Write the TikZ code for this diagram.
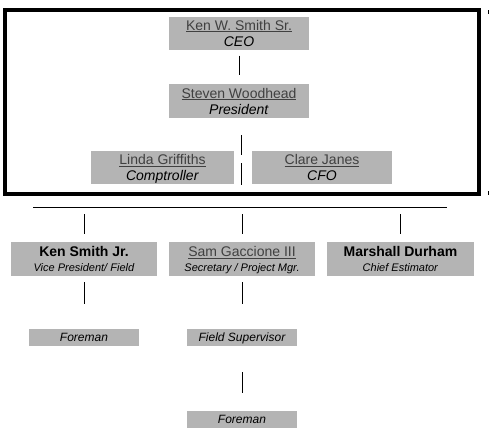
\documentclass[tikz,border=0pt]{standalone}
\usepackage{fontspec}
\setmainfont{Liberation Sans}
\usepackage{xcolor}
\usetikzlibrary{positioning}
\definecolor{boxgray}{RGB}{180,180,180}
\definecolor{namegray}{RGB}{64,64,64}
\newcommand{\pname}[1]{\textcolor{namegray}{\underline{#1}}}
\newcommand{\nodepth}[1]{\raisebox{0pt}[\height][0pt]{#1}}
\newcommand{\ptitle}[1]{\nodepth{\textit{#1}}}

\begin{document}
\begin{tikzpicture}[x=1pt,y=-1pt,
    box/.style={fill=boxgray,inner sep=0pt,align=center,minimum width=140pt,minimum height=33pt,font=\fontsize{14}{16}\selectfont},
    lowbox/.style={box,minimum width=146pt,minimum height=34pt},
    smallbox/.style={box,minimum width=110pt,minimum height=17pt,font=\fontsize{12}{13}\selectfont\itshape},
    link/.style={line width=0.8pt}]
        \useasboundingbox (0,0) rectangle (489,445);
        % top frame
        \draw[line width=4pt] (5,10) rectangle (479,193.5);
        \draw[line width=1pt] (488,10) -- (488,14);
        \draw[line width=1pt] (488,191) -- (488,195);
        \node[box] (ceo) at (239,33) {\pname{Ken W. Smith Sr.}\\\ptitle{CEO}};
        \node[box,minimum height=34pt] (pres) at (239,101) {\pname{Steven Woodhead}\\\ptitle{President}};
        \node[box,minimum width=143pt] (cmp) at (162.5,167.5) {\pname{Linda Griffiths}\\\ptitle{Comptroller}};
        \node[box] (cfo) at (322,167.5) {\pname{Clare Janes}\\\ptitle{CFO}};
        \draw[link] ([yshift=-6pt]ceo.south) -- ([yshift=9pt]pres.north);
        \coordinate (gapa) at (241,135);
        \coordinate (gapb) at (241,155);
        \coordinate (gapc) at (241,163);
        \coordinate (gapd) at (241,185);
        \draw[link] (gapa) -- (gapb);
        \draw[link] (gapc) -- (gapd);
        % second row
        \coordinate (barl) at (33,207);
        \coordinate (barr) at (447,207);
        \draw[link] (barl) -- (barr);
        \node[lowbox] (vp) at (84,259) {\textbf{Ken Smith Jr.}\\[-1.5pt]{\fontsize{11}{12}\selectfont\ptitle{Vice President/ Field}}};
        \node[lowbox] (sec) at (242,259) {\textcolor{namegray}{\underline{Sam Gaccione III}}\\[-1.5pt]{\fontsize{11}{12}\selectfont\ptitle{Secretary / Project Mgr.}}};
        \node[lowbox,minimum width=147pt] (est) at (400.5,259) {\textbf{Marshall Durham}\\[-1.5pt]{\fontsize{11}{12}\selectfont\ptitle{Chief Estimator}}};
        \foreach \n in {vp,sec,est}{\draw[link] ([yshift=8pt]\n.north) -- ([yshift=28pt]\n.north);}
        % lower rows
        \node[smallbox] (fm) at (84,337.5) {\nodepth{Foreman}};
        \node[smallbox] (fs) at (242,337.5) {\nodepth{Field Supervisor}};
        \node[smallbox] (fm2) at (242,419.5) {\nodepth{Foreman}};
        \draw[link] ([yshift=-6pt]vp.south) -- ([yshift=25pt]fm.north);
        \draw[link] ([yshift=-6pt]sec.south) -- ([yshift=25pt]fs.north);
        \draw[link] ([yshift=-26pt]fs.south) -- ([yshift=18pt]fm2.north);
    \end{tikzpicture}
\end{document}
